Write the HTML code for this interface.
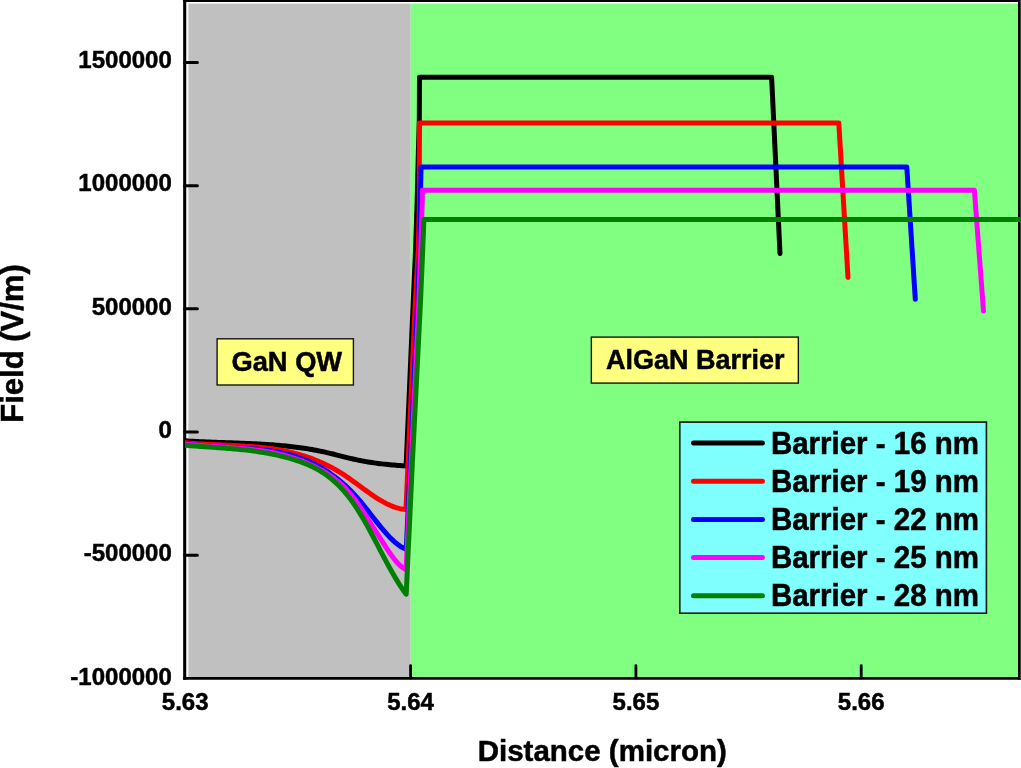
<!DOCTYPE html>
<html><head><meta charset="utf-8"><title>Field vs Distance</title>
<style>
html,body{margin:0;padding:0;background:#fff;}
body{width:1021px;height:768px;overflow:hidden;}
svg{display:block;}
text{font-family:"Liberation Sans",Arial,sans-serif;font-weight:bold;fill:#000;stroke:#000;stroke-width:0.5px;}
</style></head>
<body>
<svg width="1021" height="768" viewBox="0 0 1021 768">
<rect x="0" y="0" width="1021" height="768" fill="#ffffff"/>
<rect x="188.4" y="3.6" width="222.3" height="674" fill="#C0C0C0"/>
<rect x="410.7" y="3.6" width="607.5" height="674" fill="#80FF80"/>
<rect x="1020" y="0" width="1" height="680" fill="#33503a"/>

<g fill="none" stroke="#000">
<path d="M184.7 0V679.7" stroke-width="3.1"/>
<path d="M183.2 678.4H1020" stroke-width="2.7"/>
<path d="M183.2 1H1020" stroke-width="2"/>
<path d="M1019 0V679.7" stroke-width="2"/>
<path d="M184.7 62.50H197.4M184.7 185.67H197.4M184.7 308.84H197.4M184.7 432.01H197.4M184.7 555.18H197.4" stroke-width="3" stroke-linecap="round"/>
<path d="M410.6 678V665.6M635.9 678V665.6M861.2 678V665.6" stroke-width="2.8" stroke-linecap="round"/>
</g>
<clipPath id="pc"><rect x="184.9" y="0" width="840" height="768"/></clipPath>
<g clip-path="url(#pc)" fill="none" stroke-width="5" stroke-linejoin="round" stroke-linecap="round">
<path d="M184.00 440.73 L186.00 440.86 L188.00 440.99 L190.00 441.12 L192.00 441.24 L194.00 441.35 L196.00 441.46 L198.00 441.56 L200.00 441.66 L202.00 441.76 L204.00 441.85 L206.00 441.93 L208.00 442.02 L210.00 442.10 L212.00 442.18 L214.00 442.25 L216.00 442.32 L218.00 442.40 L220.00 442.47 L222.00 442.54 L224.00 442.60 L226.00 442.67 L228.00 442.74 L230.00 442.81 L232.00 442.87 L234.00 442.94 L236.00 443.01 L238.00 443.08 L240.00 443.16 L242.00 443.23 L244.00 443.31 L246.00 443.39 L248.00 443.47 L250.00 443.56 L252.00 443.65 L254.00 443.74 L256.00 443.84 L258.00 443.94 L260.00 444.05 L262.00 444.16 L264.00 444.28 L266.00 444.40 L268.00 444.53 L270.00 444.67 L272.00 444.81 L274.00 444.96 L276.00 445.12 L278.00 445.28 L280.00 445.46 L282.00 445.64 L284.00 445.83 L286.00 446.03 L288.00 446.23 L290.00 446.45 L292.00 446.68 L294.00 446.92 L296.00 447.17 L298.00 447.43 L300.00 447.70 L302.00 447.98 L304.00 448.27 L306.00 448.58 L308.00 448.90 L310.00 449.23 L312.00 449.57 L314.00 449.93 L316.00 450.30 L318.00 450.68 L320.00 451.08 L322.00 451.50 L324.00 451.93 L326.00 452.37 L328.00 452.83 L330.00 453.31 L332.00 453.80 L334.00 454.30 L336.00 454.81 L338.00 455.32 L340.00 455.83 L342.00 456.35 L344.00 456.85 L346.00 457.35 L348.00 457.84 L350.00 458.32 L352.00 458.79 L354.00 459.24 L356.00 459.68 L358.00 460.10 L360.00 460.51 L362.00 460.89 L364.00 461.26 L366.00 461.62 L368.00 461.95 L370.00 462.27 L372.00 462.58 L374.00 462.87 L376.00 463.14 L378.00 463.41 L380.00 463.66 L382.00 463.89 L384.00 464.12 L386.00 464.33 L388.00 464.54 L390.00 464.73 L392.00 464.92 L394.00 465.09 L396.00 465.26 L398.00 465.42 L400.00 465.57 L402.00 465.72 L404.00 465.86 L406.00 465.99 L406.10 466.00 L413.10 305.00 L415.56 250.00 L417.20 200.00 L418.40 151.00 L419.30 120.00 L419.50 77.20 L771.60 77.20 L780.00 253.50" stroke="#000000"/>
<path d="M184.00 442.63 L186.00 442.82 L188.00 443.00 L190.00 443.17 L192.00 443.34 L194.00 443.49 L196.00 443.63 L198.00 443.76 L200.00 443.89 L202.00 444.01 L204.00 444.12 L206.00 444.23 L208.00 444.33 L210.00 444.43 L212.00 444.52 L214.00 444.61 L216.00 444.70 L218.00 444.78 L220.00 444.86 L222.00 444.95 L224.00 445.03 L226.00 445.11 L228.00 445.20 L230.00 445.29 L232.00 445.38 L234.00 445.47 L236.00 445.57 L238.00 445.67 L240.00 445.78 L242.00 445.89 L244.00 446.01 L246.00 446.14 L248.00 446.27 L250.00 446.41 L252.00 446.57 L254.00 446.73 L256.00 446.90 L258.00 447.09 L260.00 447.28 L262.00 447.49 L264.00 447.71 L266.00 447.95 L268.00 448.20 L270.00 448.47 L272.00 448.75 L274.00 449.05 L276.00 449.36 L278.00 449.69 L280.00 450.04 L282.00 450.41 L284.00 450.80 L286.00 451.22 L288.00 451.65 L290.00 452.10 L292.00 452.58 L294.00 453.07 L296.00 453.60 L298.00 454.14 L300.00 454.72 L302.00 455.31 L304.00 455.94 L306.00 456.59 L308.00 457.27 L310.00 457.97 L312.00 458.71 L314.00 459.47 L316.00 460.27 L318.00 461.10 L320.00 461.95 L322.00 462.84 L324.00 463.77 L326.00 464.72 L328.00 465.72 L330.00 466.74 L332.00 467.80 L334.00 468.90 L336.00 470.03 L338.00 471.21 L340.00 472.42 L342.00 473.67 L344.00 474.95 L346.00 476.28 L348.00 477.64 L350.00 479.04 L352.00 480.45 L354.00 481.89 L356.00 483.34 L358.00 484.80 L360.00 486.27 L362.00 487.73 L364.00 489.19 L366.00 490.64 L368.00 492.07 L370.00 493.48 L372.00 494.87 L374.00 496.22 L376.00 497.54 L378.00 498.81 L380.00 500.04 L382.00 501.21 L384.00 502.33 L386.00 503.39 L388.00 504.38 L390.00 505.29 L392.00 506.13 L394.00 506.89 L396.00 507.56 L398.00 508.14 L400.00 508.61 L402.00 508.99 L404.00 509.26 L406.00 509.41 L408.10 462.00 L415.20 305.00 L418.26 250.00 L419.30 205.00 L419.40 122.90 L838.80 122.90 L848.00 277.40" stroke="#FF0000"/>
<path d="M184.00 443.13 L186.00 443.47 L188.00 443.78 L190.00 444.08 L192.00 444.36 L194.00 444.62 L196.00 444.86 L198.00 445.09 L200.00 445.30 L202.00 445.50 L204.00 445.69 L206.00 445.86 L208.00 446.03 L210.00 446.18 L212.00 446.32 L214.00 446.46 L216.00 446.59 L218.00 446.71 L220.00 446.83 L222.00 446.94 L224.00 447.05 L226.00 447.15 L228.00 447.26 L230.00 447.36 L232.00 447.47 L234.00 447.57 L236.00 447.68 L238.00 447.79 L240.00 447.91 L242.00 448.03 L244.00 448.16 L246.00 448.29 L248.00 448.43 L250.00 448.58 L252.00 448.74 L254.00 448.92 L256.00 449.10 L258.00 449.30 L260.00 449.51 L262.00 449.73 L264.00 449.97 L266.00 450.23 L268.00 450.50 L270.00 450.80 L272.00 451.11 L274.00 451.44 L276.00 451.80 L278.00 452.17 L280.00 452.57 L282.00 453.00 L284.00 453.45 L286.00 453.92 L288.00 454.43 L290.00 454.96 L292.00 455.52 L294.00 456.11 L296.00 456.73 L298.00 457.38 L300.00 458.07 L302.00 458.79 L304.00 459.55 L306.00 460.34 L308.00 461.17 L310.00 462.05 L312.00 462.96 L314.00 463.92 L316.00 464.92 L318.00 465.97 L320.00 467.06 L322.00 468.21 L324.00 469.40 L326.00 470.65 L328.00 471.94 L330.00 473.29 L332.00 474.70 L334.00 476.16 L336.00 477.69 L338.00 479.27 L340.00 480.91 L342.00 482.61 L344.00 484.38 L346.00 486.21 L348.00 488.11 L350.00 490.08 L352.00 492.12 L354.00 494.23 L356.00 496.40 L358.00 498.66 L360.00 500.98 L362.00 503.38 L364.00 505.83 L366.00 508.33 L368.00 510.86 L370.00 513.42 L372.00 515.98 L374.00 518.54 L376.00 521.08 L378.00 523.60 L380.00 526.08 L382.00 528.50 L384.00 530.86 L386.00 533.15 L388.00 535.35 L390.00 537.45 L392.00 539.44 L394.00 541.30 L396.00 543.03 L398.00 544.61 L400.00 546.02 L402.00 547.27 L404.00 548.33 L406.00 549.20 L406.30 549.31 L410.35 462.00 L417.40 305.00 L419.70 250.00 L420.40 200.00 L421.00 167.00 L906.80 167.00 L915.30 299.30" stroke="#0000FF"/>
<path d="M184.00 443.70 L186.00 443.95 L188.00 444.19 L190.00 444.41 L192.00 444.63 L194.00 444.83 L196.00 445.02 L198.00 445.21 L200.00 445.38 L202.00 445.55 L204.00 445.71 L206.00 445.86 L208.00 446.01 L210.00 446.15 L212.00 446.29 L214.00 446.43 L216.00 446.56 L218.00 446.69 L220.00 446.82 L222.00 446.96 L224.00 447.09 L226.00 447.22 L228.00 447.36 L230.00 447.50 L232.00 447.64 L234.00 447.78 L236.00 447.94 L238.00 448.10 L240.00 448.26 L242.00 448.43 L244.00 448.62 L246.00 448.81 L248.00 449.01 L250.00 449.22 L252.00 449.44 L254.00 449.68 L256.00 449.93 L258.00 450.19 L260.00 450.47 L262.00 450.76 L264.00 451.07 L266.00 451.39 L268.00 451.74 L270.00 452.10 L272.00 452.48 L274.00 452.88 L276.00 453.30 L278.00 453.75 L280.00 454.21 L282.00 454.70 L284.00 455.22 L286.00 455.75 L288.00 456.32 L290.00 456.91 L292.00 457.52 L294.00 458.17 L296.00 458.84 L298.00 459.55 L300.00 460.28 L302.00 461.04 L304.00 461.84 L306.00 462.67 L308.00 463.53 L310.00 464.42 L312.00 465.35 L314.00 466.32 L316.00 467.32 L318.00 468.36 L320.00 469.44 L322.00 470.55 L324.00 471.71 L326.00 472.92 L328.00 474.18 L330.00 475.50 L332.00 476.89 L334.00 478.35 L336.00 479.89 L338.00 481.51 L340.00 483.23 L342.00 485.04 L344.00 486.96 L346.00 488.99 L348.00 491.14 L350.00 493.40 L352.00 495.80 L354.00 498.33 L356.00 501.00 L358.00 503.81 L360.00 506.78 L362.00 509.86 L364.00 513.01 L366.00 516.17 L368.00 519.30 L370.00 522.41 L372.00 525.51 L374.00 528.59 L376.00 531.67 L378.00 534.76 L380.00 537.86 L382.00 540.99 L384.00 544.12 L386.00 547.23 L388.00 550.29 L390.00 553.25 L392.00 556.08 L394.00 558.76 L396.00 561.24 L398.00 563.49 L400.00 565.49 L402.00 567.18 L404.00 568.55 L406.00 569.56 L406.10 569.60 L411.25 462.00 L418.70 305.00 L420.60 250.00 L422.35 200.00 L422.40 190.30 L974.40 190.30 L983.50 311.10" stroke="#FF00FF"/>
<path d="M184.00 445.15 L186.00 445.33 L188.00 445.50 L190.00 445.66 L192.00 445.82 L194.00 445.98 L196.00 446.12 L198.00 446.27 L200.00 446.41 L202.00 446.55 L204.00 446.69 L206.00 446.83 L208.00 446.97 L210.00 447.10 L212.00 447.24 L214.00 447.37 L216.00 447.51 L218.00 447.65 L220.00 447.79 L222.00 447.94 L224.00 448.09 L226.00 448.24 L228.00 448.40 L230.00 448.56 L232.00 448.73 L234.00 448.90 L236.00 449.08 L238.00 449.27 L240.00 449.46 L242.00 449.67 L244.00 449.88 L246.00 450.10 L248.00 450.33 L250.00 450.58 L252.00 450.83 L254.00 451.10 L256.00 451.37 L258.00 451.66 L260.00 451.97 L262.00 452.28 L264.00 452.62 L266.00 452.96 L268.00 453.32 L270.00 453.70 L272.00 454.09 L274.00 454.50 L276.00 454.93 L278.00 455.38 L280.00 455.84 L282.00 456.33 L284.00 456.83 L286.00 457.36 L288.00 457.90 L290.00 458.47 L292.00 459.06 L294.00 459.67 L296.00 460.30 L298.00 460.96 L300.00 461.64 L302.00 462.36 L304.00 463.11 L306.00 463.90 L308.00 464.73 L310.00 465.61 L312.00 466.53 L314.00 467.51 L316.00 468.55 L318.00 469.65 L320.00 470.81 L322.00 472.05 L324.00 473.35 L326.00 474.73 L328.00 476.19 L330.00 477.73 L332.00 479.36 L334.00 481.08 L336.00 482.90 L338.00 484.81 L340.00 486.83 L342.00 488.95 L344.00 491.19 L346.00 493.53 L348.00 495.99 L350.00 498.58 L352.00 501.29 L354.00 504.12 L356.00 507.07 L358.00 510.14 L360.00 513.32 L362.00 516.61 L364.00 520.01 L366.00 523.51 L368.00 527.10 L370.00 530.77 L372.00 534.51 L374.00 538.29 L376.00 542.11 L378.00 545.94 L380.00 549.78 L382.00 553.59 L384.00 557.38 L386.00 561.13 L388.00 564.83 L390.00 568.46 L392.00 572.02 L394.00 575.50 L396.00 578.88 L398.00 582.15 L400.00 585.30 L402.00 588.32 L404.00 591.20 L406.00 593.93 L406.20 594.20 L412.40 462.00 L420.35 305.00 L422.70 250.00 L423.90 219.40 L1030.00 219.40" stroke="#008000"/>

</g>
<g font-size="24">
<text x="171.8" y="67.9" text-anchor="end">1500000</text>
<text x="171.8" y="191.2" text-anchor="end">1000000</text>
<text x="171.8" y="314.5" text-anchor="end">500000</text>
<text x="171.8" y="438.0" text-anchor="end">0</text>
<text x="171.8" y="561.2" text-anchor="end">-500000</text>
<text x="171.8" y="684.6" text-anchor="end">-1000000</text>
<text x="185.2" y="710.2" text-anchor="middle">5.63</text>
<text x="410.6" y="710.2" text-anchor="middle">5.64</text>
<text x="635.9" y="710.2" text-anchor="middle">5.65</text>
<text x="861.2" y="710.2" text-anchor="middle">5.66</text>
</g>
<text x="602.3" y="761" font-size="29.5" text-anchor="middle">Distance (micron)</text>
<text transform="translate(22.6 343.5) rotate(-90)" font-size="31" text-anchor="middle">Field (V/m)</text>
<rect x="217.1" y="338.8" width="136.3" height="46.2" fill="#FFFF80" stroke="#151515" stroke-width="1.4"/>
<text transform="translate(286.8 371.3) scale(1 1.045)" font-size="27.3" text-anchor="middle">GaN QW</text>
<rect x="591.35" y="337.1" width="207" height="46" fill="#FFFF80" stroke="#151515" stroke-width="1.4"/>
<text transform="translate(695.3 369.4) scale(1 1.045)" font-size="27" text-anchor="middle">AlGaN Barrier</text>
<rect x="679.8" y="422.1" width="306.6" height="191.1" fill="#80FFFF" stroke="#151515" stroke-width="1.6"/>
<g font-size="29.5">
<path d="M693.5 443.10H762.4" stroke="#000000" stroke-width="5" stroke-linecap="round" fill="none"/>
<text transform="translate(770.9 453.50) scale(1 1.04)">Barrier - 16 nm</text>
<path d="M693.5 481.25H762.4" stroke="#FF0000" stroke-width="5" stroke-linecap="round" fill="none"/>
<text transform="translate(770.9 491.55) scale(1 1.04)">Barrier - 19 nm</text>
<path d="M693.5 519.40H762.4" stroke="#0000FF" stroke-width="5" stroke-linecap="round" fill="none"/>
<text transform="translate(770.9 529.60) scale(1 1.04)">Barrier - 22 nm</text>
<path d="M693.5 557.55H762.4" stroke="#FF00FF" stroke-width="5" stroke-linecap="round" fill="none"/>
<text transform="translate(770.9 567.65) scale(1 1.04)">Barrier - 25 nm</text>
<path d="M693.5 595.70H762.4" stroke="#008000" stroke-width="5" stroke-linecap="round" fill="none"/>
<text transform="translate(770.9 605.70) scale(1 1.04)">Barrier - 28 nm</text>
</g>
</svg>
</body></html>
